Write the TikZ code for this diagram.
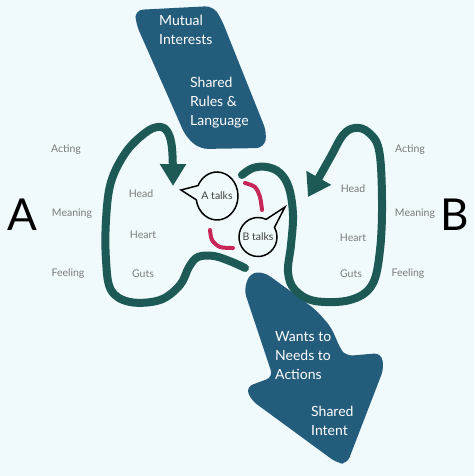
\documentclass[tikz,border=0pt]{standalone}
\usepackage{fontspec}
\setmainfont{Lato}
\usetikzlibrary{calc}
\usetikzlibrary{arrows.meta}
\usetikzlibrary{shapes.callouts}

\definecolor{bgcol}{HTML}{F0FAFC}
\definecolor{slab}{HTML}{245C7C}
\definecolor{loopcol}{HTML}{1D5A56}
\definecolor{talkred}{HTML}{C72659}
\definecolor{labgrey}{HTML}{7A7A7A}

\begin{document}
\begin{tikzpicture} [x=1pt, y=-1pt,
  lab/.style={text=labgrey, font=\fontsize{10.5}{12}\selectfont, inner sep=0pt},
  side/.style={font=\fontsize{44}{44}\selectfont, inner sep=0pt},
  slabtext/.style={text=white, font=\fontsize{14}{19}\selectfont, align=left, anchor=north west, inner sep=0pt},
  loopline/.style={loopcol, line width=8pt, line cap=round, line join=round},
  talk/.style={ellipse callout, draw=black, line width=1.5pt, callout pointer arc=35, text=black!75, font=\fontsize{10.5}{12}\selectfont, inner sep=0pt, inner xsep=-8pt},
  redarc/.style={talkred, line width=4pt, line cap=round}]
\useasboundingbox (0,0) rectangle (474,476);
\fill[bgcol] (0,0) rectangle (474,476);

\fill[slab, rounded corners=8pt] (135,10) -- (213,6) -- (221,18) -- (267,133) -- (264,148) -- (200,149) -- (186,137) -- (136,24) -- cycle;
\fill[slab, rounded corners=7pt] (250,273) -- (264,272) -- (293,293) -- (316,310) -- (331,327) -- (341,350) -- (346,356) -- (381,353) -- (384,368) -- (347,464) -- (337,463) -- (251,400) -- (246,387) -- (273,377) -- (244,290) -- cycle;

\node[slabtext] (mutual) at (159,15) {Mutual\\Interests};
\node[slabtext] (rules) at (190,77) {Shared\\Rules \&\\Language};
\node[slabtext] (wants) at (275,331) {Wants to\\Needs to\\Actions};
\node[slabtext] (intent) at (311,406) {Shared\\Intent};

\coordinate (Aend) at (245,268);
\coordinate (Aarrow) at (173,186);
\coordinate (Bend) at (242,175);
\coordinate (Barrow) at (308,197);
\draw[loopline, -{Triangle[length=22pt, width=25pt]}] plot[smooth, tension=0.6] coordinates {(Aend) (232,262) (214,256) (198,257) (189,267) (180,285) (160,300) (130,302) (111,290) (106,260) (106,220) (111,182) (126,152) (145,133) (158,127) (167,131) (172,148) (Aarrow)};
\draw[loopline, -{Triangle[length=22pt, width=27pt]}] plot[smooth, tension=0.6] coordinates {(Bend) (253,168) (267,167) (280,173) (289,188) (293,215) (291,245) (288,272) (295,290) (315,301) (350,300) (372,285) (380,250) (382,200) (379,150) (368,132) (355,128) (343,135) (330,158) (Barrow)};

\coordinate (Atip) at (181,190);
\coordinate (Btip) at (285,207);
\node[talk, minimum width=42pt, minimum height=48pt, callout absolute pointer={(Atip)}] (Atalk) at (217,196) {A talks};
\node[talk, minimum width=38pt, minimum height=39pt, callout absolute pointer={(Btip)}] (Btalk) at (258,237) {B talks};

\draw[redarc] plot[smooth] coordinates {(245,183) (255,187) (260,197) (262,210)};
\draw[redarc] plot[smooth] coordinates {(210,230) (212,240) (220,247) (233,248)};

\node[side] (A) at (22,215) {A};
\node[side] (B) at (455,215) {B};

\node[lab] (actA) at (66,150) {Acting};
\node[lab] (meanA) at (72,214) {Meaning};
\node[lab] (feelA) at (68,274) {Feeling};
\node[lab] (headA) at (141,194) {Head};
\node[lab] (heartA) at (143,235) {Heart};
\node[lab] (gutsA) at (143,274) {Guts};
\node[lab] (headB) at (353,189) {Head};
\node[lab] (heartB) at (353,238) {Heart};
\node[lab] (gutsB) at (351,274) {Guts};
\node[lab] (actB) at (410,150) {Acting};
\node[lab] (meanB) at (415,214) {Meaning};
\node[lab] (feelB) at (408,274) {Feeling};

\end{tikzpicture}
\end{document}
